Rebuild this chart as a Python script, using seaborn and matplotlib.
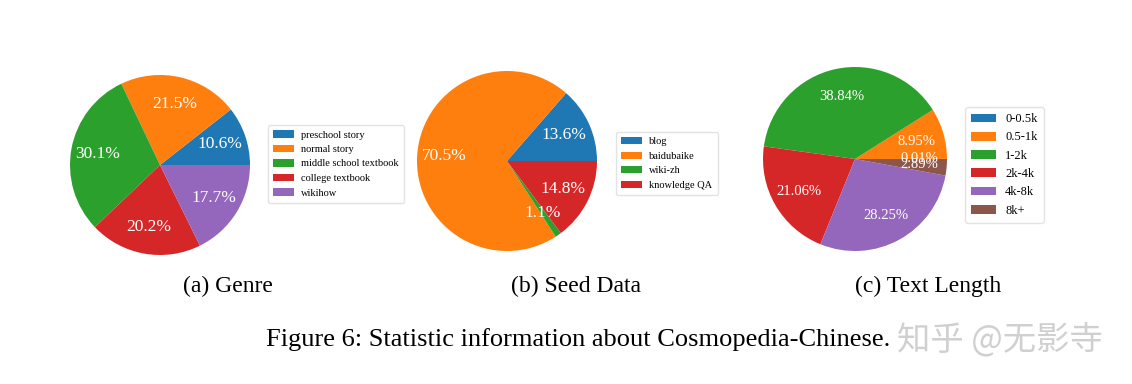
import matplotlib
matplotlib.use("Agg")
import matplotlib.pyplot as plt
import seaborn as sns

genre_labels = ["preschool story", "normal story", "middle school textbook", "college textbook", "wikihow"]
genre_values = [10.6, 21.5, 30.1, 20.2, 17.7]

seed_labels = ["blog", "baidubaike", "wiki-zh", "knowledge QA"]
seed_values = [13.6, 70.5, 1.1, 14.8]

length_labels = ["0-0.5k", "0.5-1k", "1-2k", "2k-4k", "4k-8k", "8k+"]
length_values = [0.01, 8.95, 38.84, 21.06, 28.25, 2.89]

plt.rcParams["font.family"] = ["Liberation Serif", "DejaVu Serif"]
colors = sns.color_palette("tab10")

W, H = 1132, 384
fig = plt.figure(figsize=(W / 100, H / 100), dpi=100)


def pie_axes(cx, cy, r):
    size = r * 2.5
    return fig.add_axes([(cx - size / 2) / W, (H - cy - size / 2) / H, size / W, size / H])


# labels, values, pct format, pct font, (cx, cy, r), legend corner, legend font, subcaption, x
panels = [
    (genre_labels, genre_values, "%1.1f%%", 12.5, (160, 165, 90), (268, 125), 7.5, "(a) Genre", 228),
    (seed_labels, seed_values, "%1.1f%%", 12.5, (507, 161, 90), (616, 132), 7.5, "(b) Seed Data", 576),
    (length_labels, length_values, "%1.2f%%", 10.5, (855, 159, 92), (965, 107), 9, "(c) Text Length", 928),
]

for labels, values, fmt, pfs, (cx, cy, r), (lx, ly), lfs, sub, sx in panels:
    ax = pie_axes(cx, cy, r)
    wedges, _, autotexts = ax.pie(values, colors=colors[:len(values)], autopct=fmt,
                                  pctdistance=0.7, startangle=0,
                                  textprops=dict(color="white", fontsize=pfs))
    ax.set_xlim(-1.25, 1.25)
    ax.set_ylim(-1.25, 1.25)
    ax.set_aspect("equal")
    ax.legend(wedges, labels, loc="upper left", bbox_to_anchor=(lx / W, 1 - ly / H),
              bbox_transform=fig.transFigure, fontsize=lfs, frameon=True,
              handlelength=2.0, handleheight=0.7, handletextpad=0.7, borderpad=0.5,
              labelspacing=0.5, borderaxespad=0, fancybox=True, edgecolor="#dddddd")
    fig.text(sx / W, 1 - 286 / H, sub, ha="center", va="center", fontsize=17)

fig.text(578 / W, 1 - 340 / H, "Figure 6: Statistic information about Cosmopedia-Chinese.",
         ha="center", va="center", fontsize=19)
fig.text(1000 / W, 1 - 340 / H, "知乎 @无影寺", ha="center", va="center", fontsize=24,
         color="#d0d0d0", family=["Noto Sans CJK SC", "DejaVu Sans"])

fig.savefig("out.png", dpi=100)
